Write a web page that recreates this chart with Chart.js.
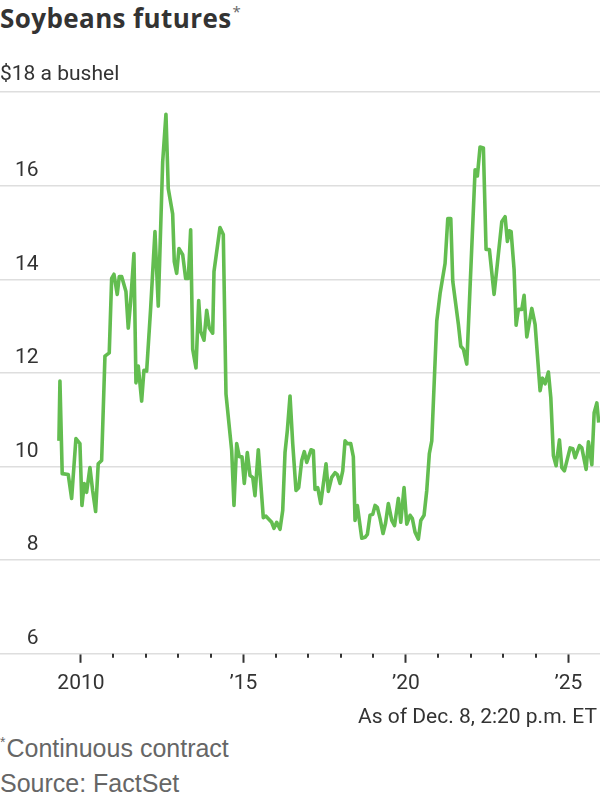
<!DOCTYPE html>
<html lang="en">

<head>
    <meta charset="UTF-8">
    <title>Soybeans futures</title>
    <script src="https://cdn.jsdelivr.net/npm/chart.js"></script>
    <style>
        body {
            margin: 0;
            width: 600px;
            height: 800px;
            background: #fff;
            position: relative;
            overflow: hidden;
            font-family: "Liberation Sans", Arial, sans-serif;
        }

        .title {
            position: absolute;
            left: 0;
            top: 0;
            font-family: "Open Sans", sans-serif;
            font-weight: 700;
            font-size: 26px;
            line-height: 36px;
            color: #333;
            letter-spacing: 0.4px;
        }

        .star {
            font-size: 15px;
            font-weight: 400;
            color: #666;
            vertical-align: top;
            line-height: 22px;
            margin-left: 1px;
            letter-spacing: 0;
        }

        .chart-container {
            position: absolute;
            left: 0;
            top: 0;
            width: 600px;
            height: 704px;
        }

        .asof {
            position: absolute;
            right: 3px;
            top: 701px;
            font-family: Roboto, sans-serif;
            font-size: 21px;
            line-height: 30px;
            color: #333;
        }

        .note {
            position: absolute;
            left: 0;
            font-size: 25px;
            line-height: 30px;
            color: #666;
        }

        .note .star {
            font-size: 14px;
            line-height: 18px;
            margin: 0 1px 0 0;
        }
    </style>
</head>

<body>
    <div class="title">Soybeans futures<span class="star">*</span></div>

    <div class="chart-container">
        <canvas id="graficoSoja"></canvas>
    </div>

    <div class="asof">As of Dec. 8, 2:20 p.m. ET</div>
    <div class="note" style="top:733px"><span class="star">*</span>Continuous contract</div>
    <div class="note" style="top:768px">Source: FactSet</div>

    <script>
        // fecha en años decimales, precio en $ por bushel
        const dates = [
            2009.323, 2009.354, 2009.424, 2009.609, 2009.714, 2009.846, 2009.969, 2010.031, 2010.102, 2010.175,
            2010.277, 2010.360, 2010.452, 2010.532, 2010.637, 2010.739, 2010.871, 2010.945, 2011.016, 2011.117,
            2011.179, 2011.253, 2011.385, 2011.456, 2011.530, 2011.631, 2011.693, 2011.764, 2011.868, 2011.939,
            2012.022, 2012.145, 2012.278, 2012.379, 2012.515, 2012.616, 2012.687, 2012.822, 2012.872, 2012.946,
            2013.016, 2013.130, 2013.222, 2013.303, 2013.376, 2013.438, 2013.540, 2013.623, 2013.684, 2013.786,
            2013.869, 2013.949, 2014.054, 2014.094, 2014.278, 2014.380, 2014.463, 2014.638, 2014.709, 2014.792,
            2014.872, 2014.955, 2015.026, 2015.118, 2015.202, 2015.285, 2015.355, 2015.457, 2015.611, 2015.694,
            2015.817, 2015.869, 2015.940, 2016.023, 2016.125, 2016.208, 2016.279, 2016.350, 2016.433, 2016.516,
            2016.617, 2016.700, 2016.793, 2016.873, 2016.947, 2017.079, 2017.150, 2017.202, 2017.285, 2017.378,
            2017.541, 2017.612, 2017.716, 2017.818, 2017.889, 2017.972, 2018.055, 2018.126, 2018.196, 2018.301,
            2018.381, 2018.433, 2018.504, 2018.566, 2018.640, 2018.741, 2018.812, 2018.895, 2018.978, 2019.049,
            2019.120, 2019.203, 2019.295, 2019.372, 2019.458, 2019.563, 2019.649, 2019.766, 2019.840, 2019.941,
            2020.025, 2020.126, 2020.197, 2020.280, 2020.382, 2020.456, 2020.557, 2020.640, 2020.720, 2020.794,
            2020.948, 2021.050, 2021.203, 2021.287, 2021.379, 2021.440, 2021.613, 2021.687, 2021.767, 2021.871,
            2022.127, 2022.197, 2022.280, 2022.382, 2022.465, 2022.567, 2022.711, 2022.813, 2022.948, 2023.050,
            2023.121, 2023.182, 2023.235, 2023.327, 2023.389, 2023.460, 2023.564, 2023.635, 2023.718, 2023.872,
            2023.973, 2024.127, 2024.198, 2024.281, 2024.383, 2024.457, 2024.537, 2024.620, 2024.722, 2024.795,
            2024.875, 2025.051, 2025.134, 2025.205, 2025.337, 2025.411, 2025.543, 2025.614, 2025.719, 2025.790,
            2025.873, 2025.930
        ];

        const prices = [
            10.55, 11.83, 9.85, 9.83, 9.32, 10.60, 10.49, 9.17, 9.64, 9.45,
            9.98, 9.49, 9.04, 10.06, 10.13, 12.36, 12.43, 14.02, 14.11, 13.68,
            14.06, 14.06, 13.74, 12.96, 13.53, 14.55, 11.79, 12.15, 11.40, 12.06,
            12.04, 13.38, 15.02, 13.43, 16.51, 17.53, 15.94, 15.40, 14.38, 14.13,
            14.66, 14.53, 14.02, 14.02, 15.06, 12.51, 12.11, 13.55, 12.89, 12.70,
            13.34, 12.96, 12.85, 14.17, 15.11, 14.96, 11.55, 10.34, 9.17, 10.49,
            10.21, 10.21, 9.64, 10.30, 9.81, 9.77, 9.38, 10.36, 8.91, 8.94,
            8.85, 8.81, 8.68, 8.81, 8.66, 9.06, 10.30, 10.77, 11.51, 10.49,
            9.49, 9.55, 10.13, 10.32, 10.09, 10.36, 10.34, 9.51, 9.55, 9.21,
            10.06, 9.47, 9.77, 9.87, 9.83, 9.64, 9.91, 10.55, 10.49, 10.49,
            10.21, 8.85, 9.17, 8.85, 8.47, 8.49, 8.55, 8.96, 8.98, 9.17,
            9.13, 8.89, 8.57, 8.79, 9.21, 8.85, 8.74, 9.32, 8.81, 9.55,
            8.77, 8.96, 8.89, 8.60, 8.45, 8.85, 8.96, 9.49, 10.28, 10.55,
            13.11, 13.70, 14.34, 15.30, 15.30, 13.96, 13.04, 12.57, 12.51, 12.19,
            16.34, 16.21, 16.83, 16.81, 14.64, 14.64, 13.68, 14.34, 15.23, 15.34,
            14.81, 15.04, 15.02, 14.21, 13.02, 13.36, 13.36, 13.66, 12.77, 13.38,
            13.04, 11.62, 11.89, 11.77, 12.02, 11.47, 10.23, 10.02, 10.57, 9.98,
            9.91, 10.40, 10.38, 10.19, 10.45, 10.40, 9.94, 10.53, 10.04, 11.15,
            11.36, 10.94
        ];

        const majorYears = [2010, 2015, 2020, 2025];
        const yearLabels = ['2010', '\u201915', '\u201920', '\u201925'];
        const unitLabel = '$18 a bushel';

        const fuenteEje = { family: 'Roboto', size: 21 };

        // marcas cortas de cada año entre los años principales
        const marcasMenores = {
            id: 'marcasMenores',
            afterDraw(chart) {
                const x = chart.scales.x;
                const ctx = chart.ctx;
                const y0 = chart.chartArea.bottom;
                ctx.save();
                ctx.strokeStyle = '#333';
                ctx.lineWidth = 2;
                x.ticks.forEach(t => {
                    if (t.value > majorYears[0] && !majorYears.includes(t.value)) {
                        const px = Math.round(x.getPixelForValue(t.value));
                        ctx.beginPath();
                        ctx.moveTo(px, y0);
                        ctx.lineTo(px, y0 + 4);
                        ctx.stroke();
                    }
                });
                ctx.restore();
            }
        };

        new Chart(document.getElementById('graficoSoja'), {
            type: 'line',
            data: {
                datasets: [{
                    data: dates.map((d, i) => ({ x: d, y: prices[i] })),
                    borderColor: '#63bd50',
                    borderWidth: 3.6,
                    borderJoinStyle: 'round',
                    pointRadius: 0,
                    tension: 0
                }]
            },
            options: {
                responsive: true,
                maintainAspectRatio: false,
                animation: false,
                layout: { padding: { top: 60, left: 0, right: 0, bottom: 0 } },
                plugins: {
                    legend: { display: false },
                    tooltip: { enabled: false },
                    title: {
                        display: true,
                        text: unitLabel,
                        align: 'start',
                        color: '#333',
                        font: { family: 'Roboto', size: 21, weight: 'normal' },
                        padding: { top: 2, bottom: 5 }
                    }
                },
                scales: {
                    x: {
                        type: 'linear',
                        min: 2007.51,
                        max: 2025.97,
                        border: { display: false },
                        grid: {
                            drawOnChartArea: false,
                            tickLength: 9,
                            tickWidth: 2,
                            tickColor: c => (c.tick && majorYears.includes(c.tick.value)) ? '#333' : 'rgba(0,0,0,0)'
                        },
                        ticks: {
                            stepSize: 1,
                            includeBounds: false,
                            autoSkip: false,
                            maxRotation: 0,
                            padding: 8,
                            color: '#333',
                            font: fuenteEje,
                            callback: v => {
                                const i = majorYears.indexOf(v);
                                return i >= 0 ? yearLabels[i] : '';
                            }
                        }
                    },
                    y: {
                        min: 6,
                        max: 18,
                        border: { display: false },
                        grid: { color: '#dedede', lineWidth: 1.5, drawTicks: false },
                        afterFit: s => { s.width = 0; },
                        ticks: {
                            stepSize: 2,
                            mirror: true,
                            crossAlign: 'far',
                            padding: 15,
                            labelOffset: -15,
                            color: '#333',
                            font: fuenteEje,
                            callback: v => v === 18 ? '' : v
                        }
                    }
                }
            },
            plugins: [marcasMenores]
        });
    </script>
</body>

</html>
